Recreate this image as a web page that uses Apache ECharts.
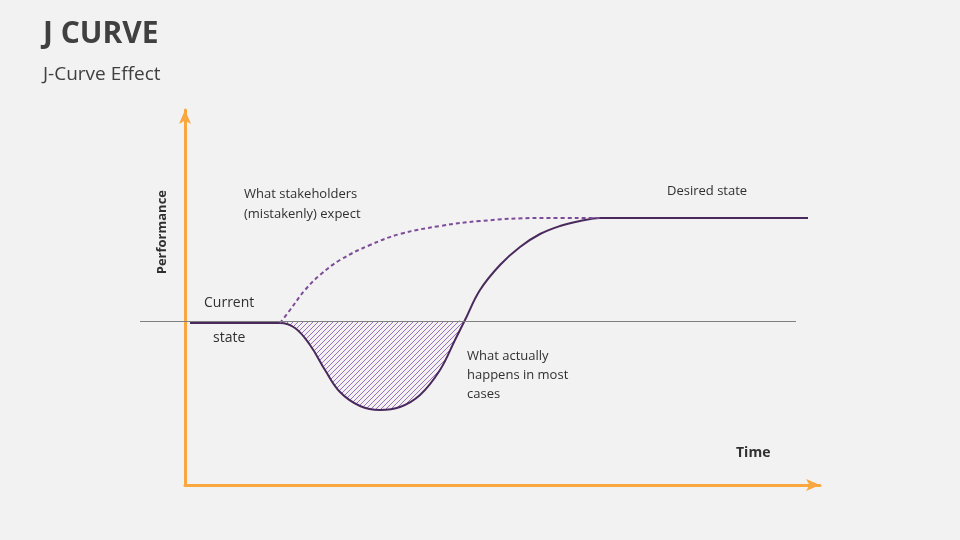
<!DOCTYPE html><html><head><meta charset="utf-8"><script src="https://cdn.jsdelivr.net/npm/echarts@6/dist/echarts.min.js"></script>
<style>html,body{margin:0;background:#f2f2f2}#c{width:960px;height:540px}</style></head><body><div id="c"></div><script>
// x = time units, y = performance units
const actualX=[5,95,110,125,140,155,175,195,215,235,255,270,280,295,315,335,355,375,395,415,623];
const actualY=[162,162,157,140,115,93,79,75,78,90,115,145,165,195,220,238,251,259,264,267,267];
const expectX=[95,105,120,135,155,185,215,255,295,355,415];
const expectY=[162,175,195,210,225,240,251,259,264,267,267];
const baseline=164;
const dipStart=2, dipEnd=12;
const cv=document.createElement('canvas');cv.width=5;cv.height=5;const g=cv.getContext('2d');
g.strokeStyle='#9b6fc0';g.lineWidth=1;g.beginPath();g.moveTo(-1,6);g.lineTo(6,-1);g.moveTo(-1,1);g.lineTo(1,-1);g.moveTo(4,6);g.lineTo(6,4);g.stroke();
const ch=echarts.init(document.getElementById('c'));
const z=(xs,ys)=>xs.map((x,i)=>[x,ys[i]]);
const dip=z(actualX.slice(dipStart-1,dipEnd+1),actualY.slice(dipStart-1,dipEnd+1));
const hidden={show:false};
ch.setOption({backgroundColor:'#f2f2f2',animation:false,
title:[{text:'J CURVE',left:38,top:14,textStyle:{fontFamily:'Open Sans',fontSize:30,fontWeight:'bold',color:'#404040'}},
{text:'J-Curve Effect',left:38,top:60,textStyle:{fontFamily:'Open Sans',fontSize:19,fontWeight:'normal',color:'#404040'}}],
grid:[{left:140,right:140,top:110,bottom:55},{left:185,right:140,top:110,bottom:55}],
xAxis:[{type:'value',min:-45,max:635,axisLine:hidden,axisTick:hidden,axisLabel:hidden,splitLine:hidden},
{gridIndex:1,type:'value',min:0,max:635,axisLine:{onZero:false,lineStyle:{color:'#f9a73e',width:3},symbol:['none','arrow'],symbolSize:[9,14]},axisTick:hidden,axisLabel:hidden,splitLine:hidden}],
yAxis:[{type:'value',min:0,max:375,axisLine:hidden,axisTick:hidden,axisLabel:hidden,splitLine:hidden},
{gridIndex:1,type:'value',min:0,max:375,axisLine:{show:true,onZero:false,lineStyle:{color:'#f9a73e',width:3},symbol:['none','arrow'],symbolSize:[9,14]},axisTick:hidden,axisLabel:hidden,splitLine:hidden}],
series:[
{type:'line',data:dip,smooth:0.4,symbol:'none',lineStyle:{width:0},areaStyle:{origin:baseline,color:{image:cv,repeat:'repeat'},opacity:1},
 markLine:{silent:true,symbol:'none',label:{show:false},lineStyle:{color:'#808080',width:1,type:'solid'},data:[[{coord:[-45,baseline]},{coord:[611,baseline]}]]}},
{type:'line',data:z(actualX,actualY),smooth:0.4,symbol:'none',lineStyle:{color:'#4a2a5c',width:2}},
{type:'line',data:z(expectX,expectY),smooth:0.4,symbol:'none',lineStyle:{color:'#7d4c98',width:2,type:[4,3]}}
],
graphic:[
{type:'text',left:156,top:190,rotation:Math.PI/2,style:{text:'Performance',font:'bold 13px Open Sans',fill:'#303030'}},
{type:'text',left:736,top:446,style:{text:'Time',font:'bold 14px Open Sans',fill:'#303030'}},
{type:'text',left:204,top:296,style:{text:'Current',font:'14px Open Sans',fill:'#303030'}},
{type:'text',left:213,top:331,style:{text:'state',font:'14px Open Sans',fill:'#303030'}},
{type:'text',left:244,top:184,style:{text:'What stakeholders\n(mistakenly) expect',font:'13px Open Sans',lineHeight:20,fill:'#303030'}},
{type:'text',left:667,top:185,style:{text:'Desired state',font:'13px Open Sans',fill:'#303030'}},
{type:'text',left:467,top:347,style:{text:'What actually\nhappens in most\ncases',font:'13px Open Sans',lineHeight:19,fill:'#303030'}}
]});
</script></body></html>
